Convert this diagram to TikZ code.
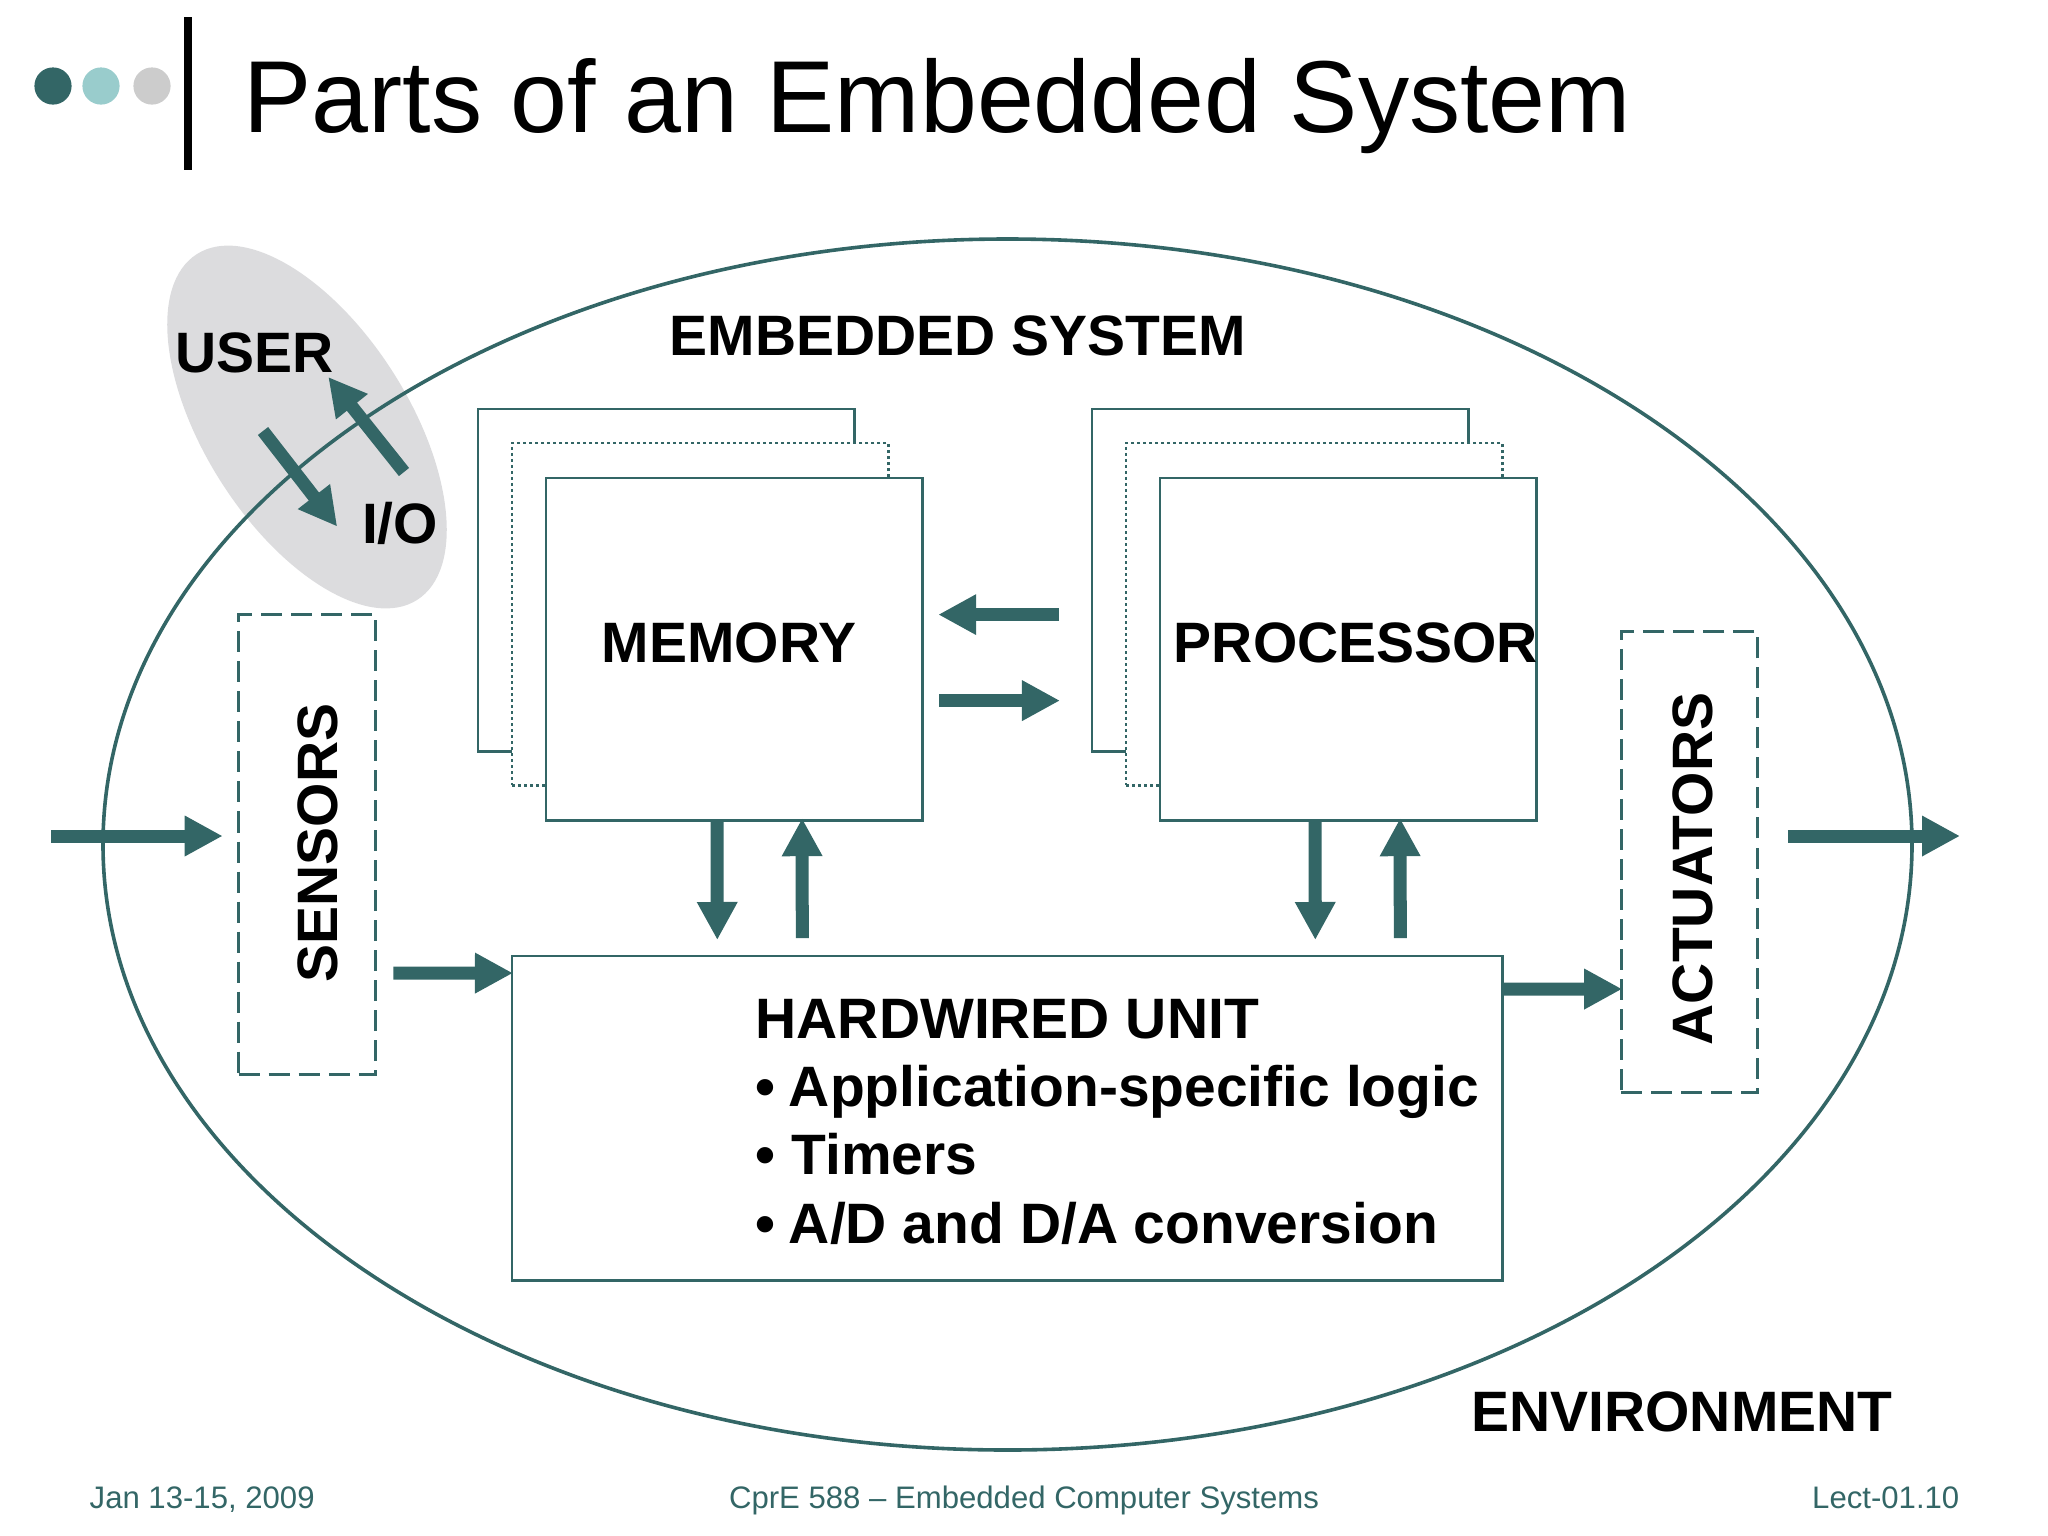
\documentclass[tikz,border=0pt]{standalone}
\usepackage{fontspec}
\setmainfont{Liberation Sans}
\usetikzlibrary{arrows.meta}

\definecolor{sysline}{HTML}{336666}
\definecolor{dotmid}{HTML}{99CCCC}
\definecolor{dotlight}{HTML}{CCCCCC}
\definecolor{usergray}{HTML}{DCDCDE}

\tikzset{
    blockbox/.style={draw=sysline, fill=white, line width=.028cm, inner sep=0, outer sep=0,
        minimum width=3.76cm, minimum height=3.42cm, anchor=north west},
    sidebox/.style={draw=sysline, line width=.028cm, dash pattern=on .21cm off .09cm,
        inner sep=0, outer sep=0, minimum width=1.365cm, minimum height=4.6cm},
    flow/.style={draw=sysline, line width=.13cm, shorten >=-.02cm, -{Triangle[length=.38cm,width=.38cm]}},
    lab/.style={font=\bfseries\fontsize{16.2}{19.4}\selectfont, inner sep=0, anchor=base},
    foot/.style={text=sysline, font=\fontsize{8.85}{11}\selectfont, inner sep=0},
}

\begin{document}
\begin{tikzpicture}[x=.01cm, y=-.01cm]
        \useasboundingbox (0,0) rectangle (2048,1536);

        % Title
        \foreach \x/\c in {53/sysline,101/dotmid,152/dotlight} {
            \fill[\c] (\x,86) circle [radius=18.6];
        }
        \draw[line width=.08cm] (188,17) -- (188,170);
        \node[font=\fontsize{29.09}{35}\selectfont, inner sep=0, anchor=base west] (title) at (243,132) {Parts of an Embedded System};

        % User bubble and system outline
        \fill[usergray, shift={(307,427)}, rotate=-57.5] (0,0) ellipse [x radius=205, y radius=102];
        \draw[sysline, line width=.036cm] (1007.5,844.5) ellipse [x radius=904.5, y radius=605.5];

        % Stacked blocks
        \foreach \name/\x in {mem/478,proc/1092} {
            \node[blockbox] (\name back) at (\x,409) {};
            \node[blockbox, dash pattern=on .03cm off .03cm] (\name mid) at ({\x+34},443) {};
            \node[blockbox] (\name) at ({\x+68},478) {};
        }
        \node[blockbox, minimum width=9.9cm, minimum height=3.24cm] (hw) at (512,956) {};
        \node[sidebox] (sensors) at (307,844.5) {};
        \node[sidebox] (actuators) at (1689.5,862) {};

        % Labels
        \node[lab] (user) at (255,372) {USER};
        \node[lab] (io) at (400,543) {I/O};
        \node[lab] (embedded) at (958,355.5) {EMBEDDED SYSTEM};
        \node[lab] (memlabel) at (729,662) {MEMORY};
        \node[lab] (proclabel) at (1356,662) {PROCESSOR};
        \node[lab, rotate=90] (senslabel) at (337.5,843) {SENSORS};
        \node[lab, rotate=90] (actlabel) at (1712,869) {ACTUATORS};
        \node[lab, anchor=north west, align=left] (hwlabel) at (755,998.5) {HARDWIRED UNIT\\•\hspace{-.7pt} Application-specific logic\\• Timers\\•\hspace{-.7pt} A/D and D/A conversion};
        \node[lab] (environment) at (1682,1431) {ENVIRONMENT};

        % Footer
        \node[foot, anchor=base west] (date) at (89,1508) {Jan 13-15, 2009};
        \node[foot, anchor=base] (course) at (1024,1508) {CprE 588 – Embedded Computer Systems};
        \node[foot, anchor=base east] (lect) at (1960,1508) {Lect-01.10};

        % Arrows
        \coordinate (in) at (51,836);
        \coordinate (out) at (1958,836);
        \draw[flow] ([shift={(4,-71)}]io.base) -- ([shift={(74.5,6.5)}]user.base);
        \draw[flow] ([shift={(8,59)}]user.base) -- ([shift={(-64,-18)}]io.base);
        \draw[flow] (in) -- ([shift={(-18,-8.5)}]sensors.west);
        \draw[flow] ([shift={(18,128.5)}]sensors.east) -- ([shift={(-1,-145)}]hw.west);
        \draw[flow] ([shift={(0,-129)}]hw.east) -- ([shift={(-1,127)}]actuators.west);
        \draw[flow] ([shift={(30,-26)}]actuators.east) -- (out);
        \draw[flow] ([shift={(-101,-34.5)}]proc.west) -- ([shift={(18,-34.5)}]mem.east);
        \draw[flow] ([shift={(17,51.5)}]mem.east) -- ([shift={(-102,51.5)}]proc.west);
        \draw[flow] ([shift={(-17,0)}]mem.south) -- ([shift={(-290,-18)}]hw.north);
        \draw[flow] ([shift={(-205,-18)}]hw.north) -- ([shift={(68,0)}]mem.south);
        \draw[flow] ([shift={(-33,0)}]proc.south) -- ([shift={(308,-18)}]hw.north);
        \draw[flow] ([shift={(393,-18)}]hw.north) -- ([shift={(52,0)}]proc.south);
    \end{tikzpicture}
\end{document}
